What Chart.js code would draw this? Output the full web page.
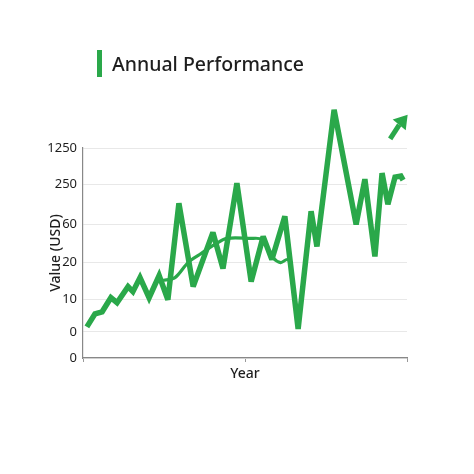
<!DOCTYPE html>
<html>
<head>
<meta charset="utf-8">
<script src="https://cdn.jsdelivr.net/npm/chart.js@4/dist/chart.umd.min.js"></script>
<style>
  html, body { margin: 0; padding: 0; background: #fff; }
  #wrap { position: relative; width: 474px; height: 474px; }
  #title {
    position: absolute; left: 97px; top: 50px; height: 27px;
    border-left: 5px solid #2aa84a; padding-left: 10px;
    font-family: "Noto Sans", sans-serif; font-size: 19.5px; font-weight: 500;
    line-height: 27px; color: #1e1e1e;
  }
  canvas { position: absolute; left: 0; top: 0; }
</style>
</head>
<body>
<div id="wrap">
  <canvas id="chart" width="474" height="474"></canvas>
  <div id="title">Annual Performance</div>
</div>
<script>
// Data (x: position along Year axis 0-100, y: height on the Value axis)
const yTickValues = [0, 26, 58, 95, 133, 173, 209];
const yTickLabels = ['0', '0', '10', '20', '60', '250', '1250'];

const mainX = [1.2, 3.7, 5.9, 8.6, 10.5, 13.9, 15.4, 17.6, 20.4, 23.5, 26.2, 29.6, 34.0, 40.1, 43.2, 47.5,
  51.9, 55.6, 58.3, 62.3, 66.4, 70.4, 72.2, 77.5, 84.3, 87.0, 90.1, 92.3, 94.1, 96.3, 98.1, 98.8];
const mainY = [31, 44, 46, 60, 55, 71, 66, 80, 60, 82, 58, 154, 71, 125, 89, 174,
  76, 121, 98, 141, 29, 146, 111, 247, 133, 178, 101, 184, 153, 180, 181, 177];

const trendX = [24.4, 28.4, 32.4, 36.0, 40.7, 44.4, 51.5, 55.2, 58.6, 61.0, 63.0, 64.5];
const trendY = [77, 80, 95, 103, 113, 119, 119, 118, 100, 95, 98, 94];

const arrowX = [94.8, 97.6];
const arrowY = [218, 232];
const arrowTip = { x: 100.2, y: 242 };

const green = '#2aa84a';
const pts = (xs, ys) => xs.map((x, i) => ({ x: x, y: ys[i] }));

// keep sharp corners from growing very long spikes
const miterPlugin = {
  id: 'miter',
  beforeDatasetsDraw(chart) { chart.ctx.miterLimit = 3; }
};

// arrow head drawn at the end of the arrow series
const arrowHead = {
  id: 'arrowHead',
  afterDatasetsDraw(chart) {
    const { ctx, scales: { x, y } } = chart;
    const bx = x.getPixelForValue(arrowX[1]), by = y.getPixelForValue(arrowY[1]);
    const tx = x.getPixelForValue(arrowTip.x), ty = y.getPixelForValue(arrowTip.y);
    const ang = Math.atan2(ty - by, tx - bx);
    const len = Math.hypot(tx - bx, ty - by);
    const half = 8.5;
    ctx.save();
    ctx.fillStyle = green;
    ctx.beginPath();
    ctx.moveTo(tx, ty);
    ctx.lineTo(tx - Math.cos(ang) * len - Math.sin(ang) * half, ty - Math.sin(ang) * len + Math.cos(ang) * half);
    ctx.lineTo(tx - Math.cos(ang) * len + Math.sin(ang) * half, ty - Math.sin(ang) * len - Math.cos(ang) * half);
    ctx.closePath();
    ctx.fill();
    ctx.restore();
  }
};

new Chart(document.getElementById('chart'), {
  type: 'line',
  data: {
    datasets: [
      {
        data: pts(mainX, mainY),
        borderColor: green, borderWidth: 5.5,
        borderJoinStyle: 'miter', pointRadius: 0, tension: 0, clip: false
      },
      {
        data: pts(trendX, trendY),
        borderColor: green, borderWidth: 3.2,
        pointRadius: 0, tension: 0.3, clip: false
      },
      {
        data: pts(arrowX, arrowY),
        borderColor: green, borderWidth: 5,
        pointRadius: 0, clip: false
      }
    ]
  },
  options: {
    responsive: false,
    animation: false,
    layout: { padding: { left: 48, right: 67, top: 148, bottom: 86 } },
    plugins: { legend: { display: false }, tooltip: { enabled: false } },
    scales: {
      x: {
        type: 'linear', min: 0, max: 100,
        afterFit: s => { s.height = 30; },
        ticks: { stepSize: 50, callback: () => '' },
        grid: { drawOnChartArea: false, drawTicks: true, tickLength: 4, color: '#999' },
        border: { color: '#888', width: 1.2 },
        title: {
          display: true, text: 'Year', color: '#1e1e1e',
          font: { family: 'Noto Sans', size: 14, weight: '500' },
          padding: { top: 0, bottom: 6 }
        }
      },
      y: {
        type: 'linear', min: 0, max: 209,
        afterFit: s => { s.width = 35; },
        afterBuildTicks: s => { s.ticks = yTickValues.map(v => ({ value: v })); },
        ticks: {
          color: '#1e1e1e', padding: 6,
          font: { family: 'Noto Sans', size: 13 },
          callback: (v, i) => yTickLabels[i]
        },
        grid: { color: '#e8e8e8', drawTicks: false },
        border: { color: '#888', width: 1.2 },
        title: {
          display: true, text: 'Value (USD)', color: '#1e1e1e',
          font: { family: 'Noto Sans', size: 14, weight: '500' },
          padding: 0
        }
      }
    }
  },
  plugins: [miterPlugin, arrowHead]
});
</script>
</body>
</html>
